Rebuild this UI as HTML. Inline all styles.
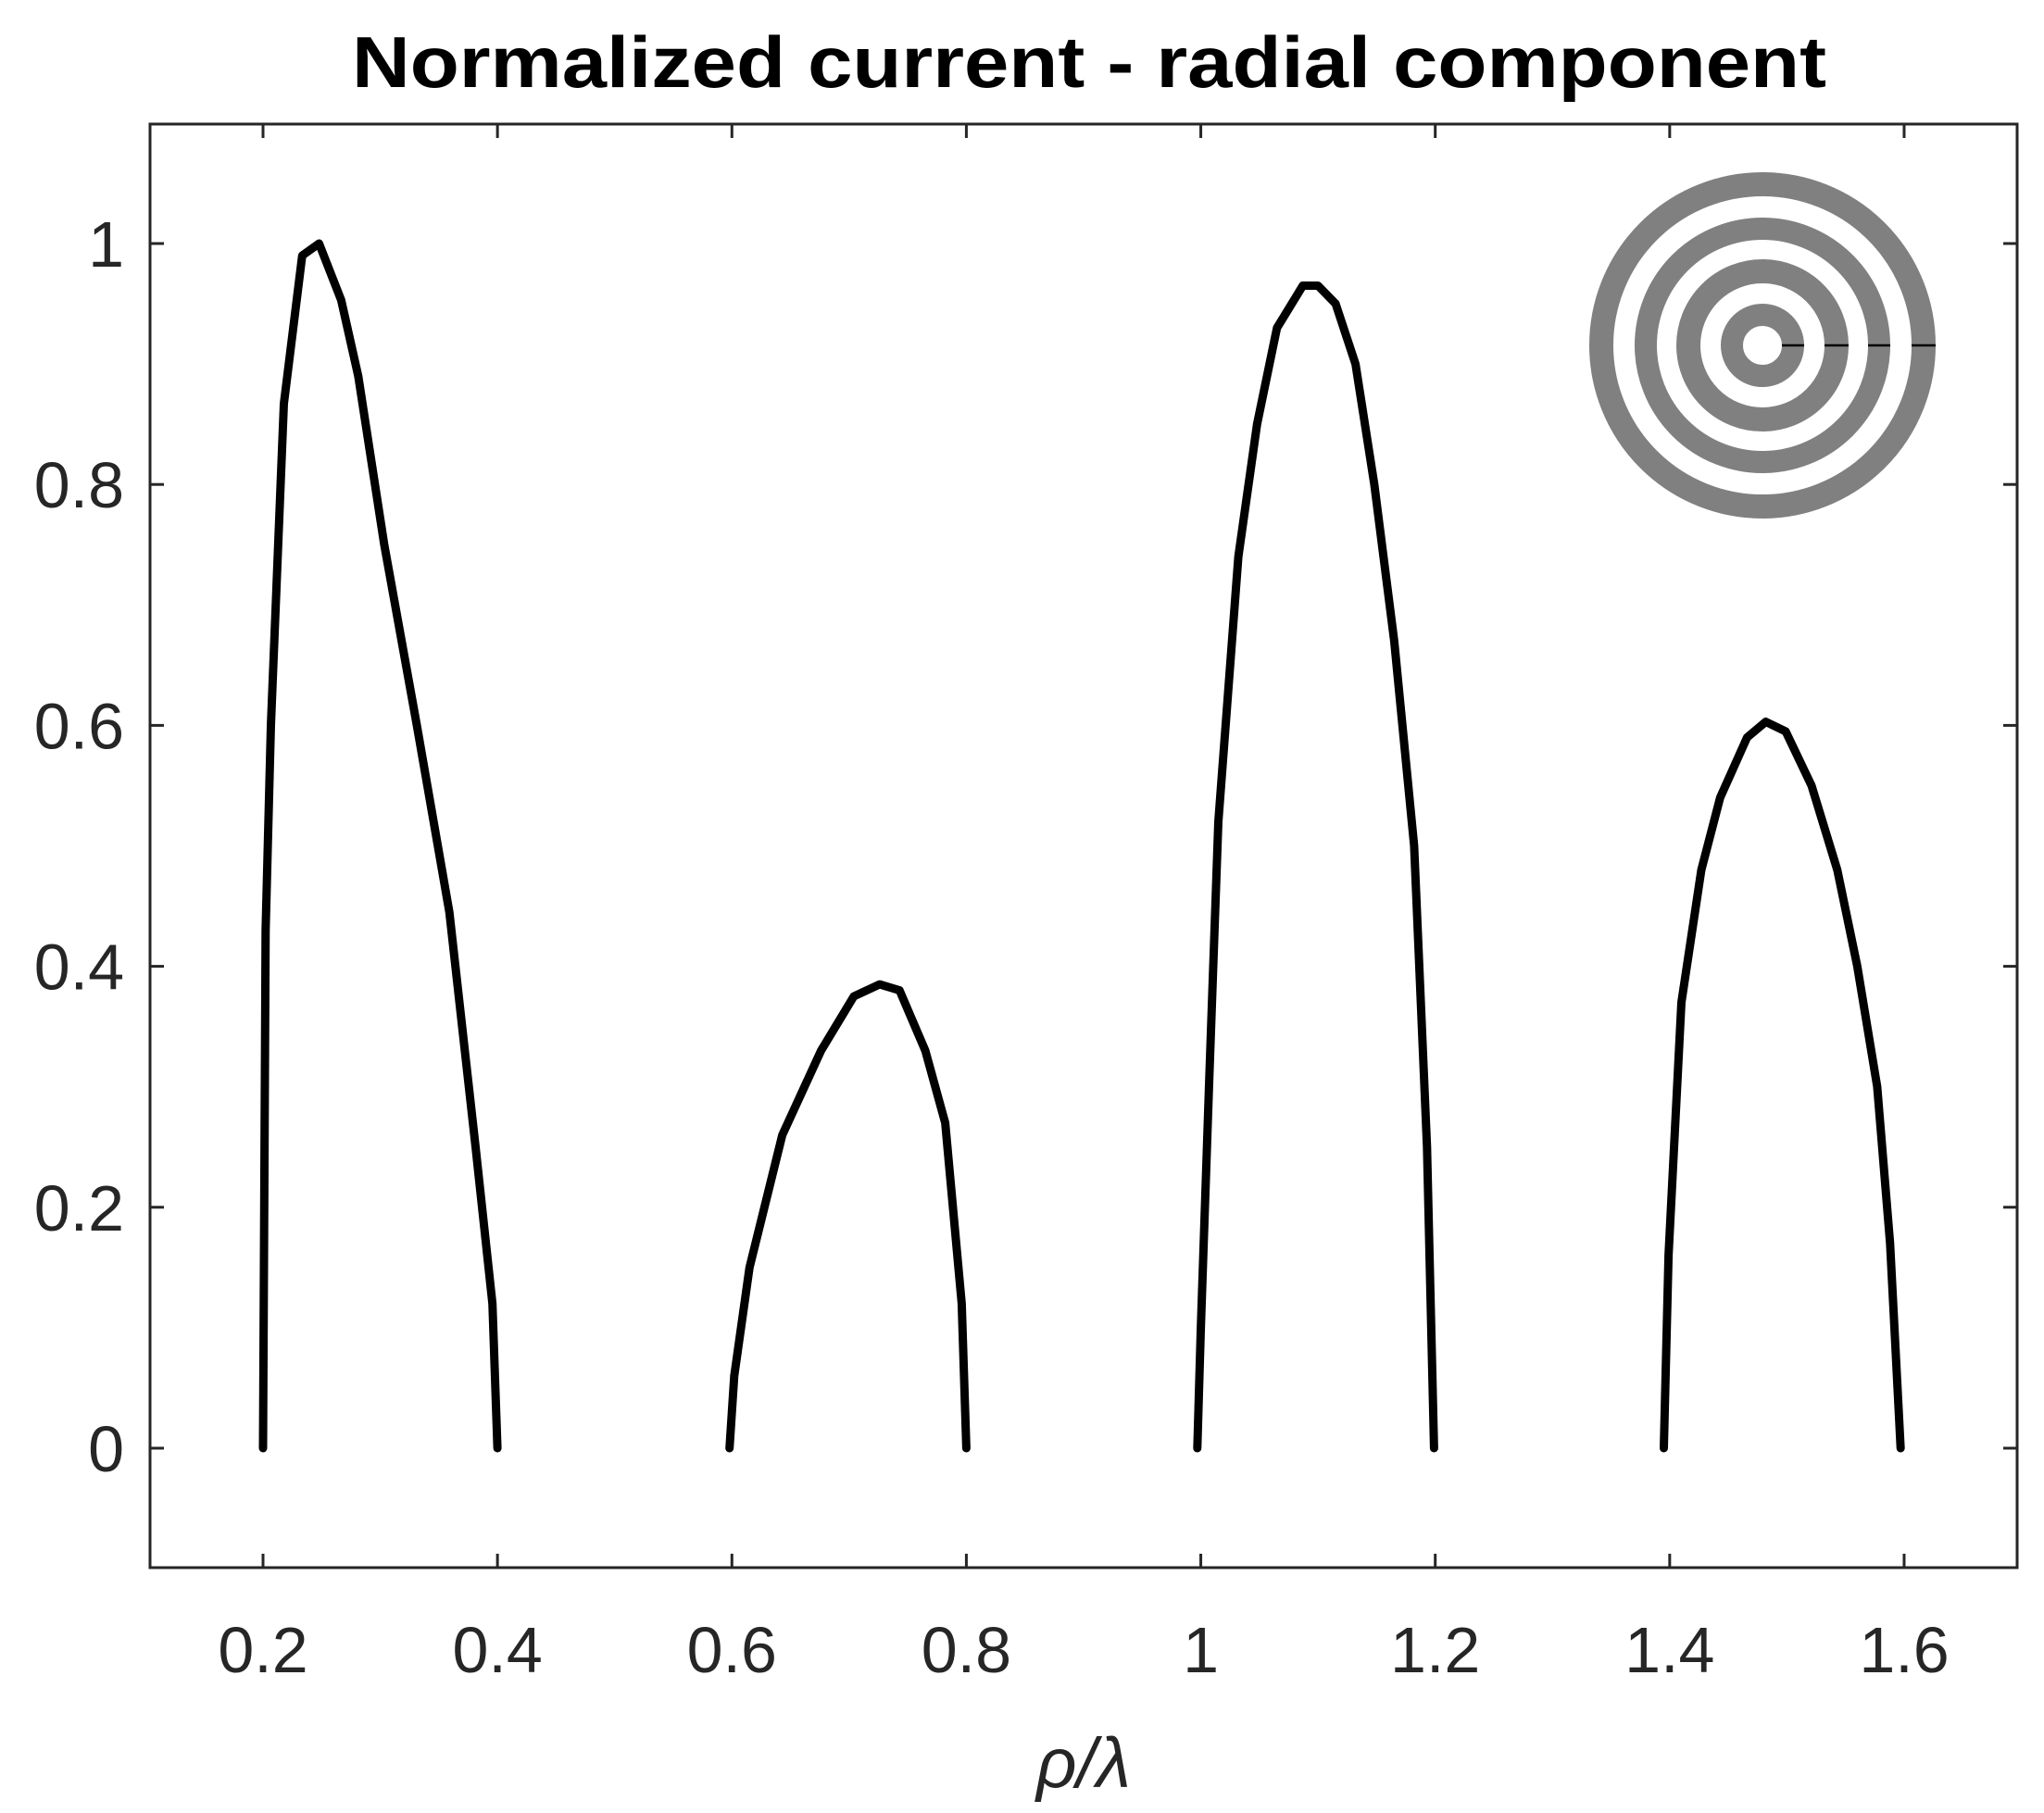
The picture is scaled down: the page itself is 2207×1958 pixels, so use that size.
<!DOCTYPE html>
<html><head><meta charset="utf-8">
<style>
html,body{margin:0;padding:0;background:#fff;}
svg{display:block;}
text{font-family:"Liberation Sans",Arial,sans-serif;}
</style></head>
<body>
<svg id="chart" width="2207" height="1958" viewBox="0 0 2207 1958" xmlns="http://www.w3.org/2000/svg">
<rect x="0" y="0" width="2207" height="1958" fill="#fff"/>
<text x="1176" y="94" text-anchor="middle" font-size="78" font-weight="bold" textLength="1592" lengthAdjust="spacingAndGlyphs" fill="#000">Normalized current - radial component</text>
<g id="plot"></g>
<g id="target-icon"></g>
<text x="1170" y="1930" text-anchor="middle" font-size="76" font-style="italic" font-family="Liberation Serif, serif" fill="#262626">ρ/λ</text>
</svg>
<script>
const xTicks = [0.2, 0.4, 0.6, 0.8, 1, 1.2, 1.4, 1.6];
const xTickLabels = ["0.2","0.4","0.6","0.8","1","1.2","1.4","1.6"];
const yTicks = [0, 0.2, 0.4, 0.6, 0.8, 1];
const yTickLabels = ["0","0.2","0.4","0.6","0.8","1"];
const lobe1X = [0.2, 0.2022, 0.2067, 0.2178, 0.2334, 0.2478, 0.2667, 0.2812, 0.3034, 0.3312, 0.359, 0.3813, 0.3957, 0.4];
const lobe1Y = [0, 0.43, 0.6, 0.867, 0.99, 1.0, 0.953, 0.89, 0.75, 0.6, 0.445, 0.25, 0.12, 0];
const lobe2X = [0.598, 0.602, 0.615, 0.643, 0.676, 0.704, 0.726, 0.743, 0.765, 0.782, 0.796, 0.8];
const lobe2Y = [0, 0.06, 0.15, 0.26, 0.33, 0.375, 0.385, 0.38, 0.33, 0.27, 0.12, 0];
const lobe3X = [0.997, 1.0, 1.007, 1.015, 1.032, 1.048, 1.065, 1.087, 1.1, 1.115, 1.132, 1.148, 1.165, 1.182, 1.193, 1.199];
const lobe3Y = [0, 0.1, 0.3, 0.52, 0.74, 0.85, 0.93, 0.965, 0.965, 0.95, 0.9, 0.8, 0.67, 0.5, 0.25, 0];
const lobe4X = [1.395, 1.399, 1.41, 1.427, 1.443, 1.466, 1.482, 1.499, 1.521, 1.543, 1.56, 1.577, 1.588, 1.597];
const lobe4Y = [0, 0.16, 0.37, 0.48, 0.54, 0.59, 0.603, 0.595, 0.55, 0.48, 0.4, 0.3, 0.17, 0];

const NS = "http://www.w3.org/2000/svg";
const L = 162, R = 2178, T = 134, B = 1693;
const XREF = 0.2, XREFPX = 284, XPXPERUNIT = 1265.7;
const YREF = 0, YREFPX = 1564, YPXPERUNIT = 1301;
function sx(v){ return XREFPX + (v - XREF) * XPXPERUNIT; }
function sy(v){ return YREFPX - (v - YREF) * YPXPERUNIT; }
function mk(tag, attrs, parent){
  const e = document.createElementNS(NS, tag);
  for (const k in attrs) e.setAttribute(k, attrs[k]);
  parent.appendChild(e);
  return e;
}
const plot = document.getElementById('plot');
const box = mk('rect', {x:L, y:T, width:R-L, height:B-T, fill:'none', stroke:'#262626', 'stroke-width':3}, plot);



xTicks.forEach((v, i) => {
  const x = sx(v);
  const t1 = mk('line', {x1:x, x2:x, y1:B, y2:B-15, stroke:'#262626', 'stroke-width':3}, plot);
  
  
  const t2 = mk('line', {x1:x, x2:x, y1:T, y2:T+15, stroke:'#262626', 'stroke-width':3}, plot);
  
  
  const lb = mk('text', {x:x, y:1806, 'text-anchor':'middle', 'font-size':70, fill:'#262626'}, plot);
  lb.textContent = xTickLabels[i];
  
  
});
yTicks.forEach((v, i) => {
  const y = sy(v);
  const t1 = mk('line', {x1:L, x2:L+15, y1:y, y2:y, stroke:'#262626', 'stroke-width':3}, plot);
  
  
  const t2 = mk('line', {x1:R, x2:R-15, y1:y, y2:y, stroke:'#262626', 'stroke-width':3}, plot);
  
  
  const lb = mk('text', {x:134, y:y+25, 'text-anchor':'end', 'font-size':70, fill:'#262626'}, plot);
  lb.textContent = yTickLabels[i];
  
  
});

[[lobe1X, lobe1Y], [lobe2X, lobe2Y], [lobe3X, lobe3Y], [lobe4X, lobe4Y]].forEach((s, k) => {
  const d = s[0].map((xv, j) => (j ? 'L' : 'M') + sx(xv).toFixed(1) + ' ' + sy(s[1][j]).toFixed(1)).join(' ');
  const p = mk('path', {d:d, fill:'none', stroke:'#000', 'stroke-width':9, 'stroke-linejoin':'round', 'stroke-linecap':'round'}, plot);
  
  
});

const icon = document.getElementById('target-icon');
const cx = 1903, cy = 373;
const rings = [[187,161],[138,114],[93,67],[45,21]];
rings.forEach((r, k) => {
  const rm = (r[0] + r[1]) / 2, w = r[0] - r[1];
  const c = mk('circle', {cx:cx, cy:cy, r:rm, fill:'none', stroke:'#808080', 'stroke-width':w}, icon);
  
  
  const seg = mk('line', {x1:cx + r[1], x2:cx + r[0], y1:cy, y2:cy, stroke:'#000', 'stroke-width':2.5}, icon);
  
  
});
</script>
</body></html>
